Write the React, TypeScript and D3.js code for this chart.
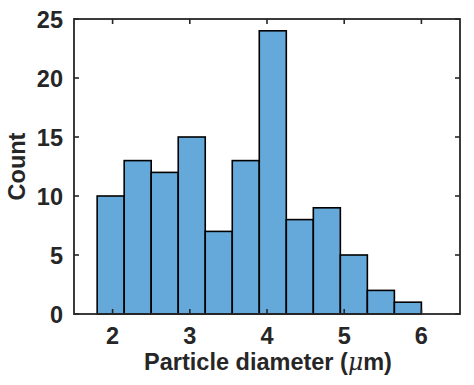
import React from 'react';
import * as d3 from 'd3';

// Histogram bins (µm) and counts
const BIN_EDGES = [1.8, 2.15, 2.5, 2.85, 3.2, 3.55, 3.9, 4.25, 4.6, 4.95, 5.3, 5.65, 6.0];
const COUNTS = [10, 13, 12, 15, 7, 13, 24, 8, 9, 5, 2, 1];
const X_TICKS = [2, 3, 4, 5, 6];
const Y_TICKS = [0, 5, 10, 15, 20, 25];

const W = 474;
const H = 385;
const FONT = 'Helvetica, Arial, "Liberation Sans", sans-serif';
const FS = 23.5;
const INK = '#262626';
const BAR_FILL = '#64a9da';

export default function App() {
  const x = d3.scaleLinear().domain([1.5, 6.5]).range([74, 460]);
  const y = d3.scaleLinear().domain([0, 25]).range([314, 19]);
  const [x0, x1] = x.range();
  const [y0, y1] = y.range();
  const tick = 5;

  const bins = COUNTS.map((c, i) => ({ lo: BIN_EDGES[i], hi: BIN_EDGES[i + 1], c }));

  return (
    <svg
      width={W}
      height={H}
      style={{ position: 'absolute', left: 0, top: 0, background: '#fff' }}
      fontFamily={FONT}
    >
      {/* bars */}
      {bins.map((b, i) => (
        <rect
          key={i}
          x={x(b.lo)}
          y={y(b.c)}
          width={x(b.hi) - x(b.lo)}
          height={y(0) - y(b.c)}
          fill={BAR_FILL}
          stroke="#000"
          strokeWidth={1.6}
        />
      ))}

      {/* ticks (inward, on all four sides) */}
      {X_TICKS.map(t => (
        <g key={'xt' + t} stroke={INK} strokeWidth={1.6}>
          <line x1={x(t)} x2={x(t)} y1={y0} y2={y0 - tick} />
          <line x1={x(t)} x2={x(t)} y1={y1} y2={y1 + tick} />
        </g>
      ))}
      {Y_TICKS.map(t => (
        <g key={'yt' + t} stroke={INK} strokeWidth={1.6}>
          <line x1={x0} x2={x0 + tick} y1={y(t)} y2={y(t)} />
          <line x1={x1} x2={x1 - tick} y1={y(t)} y2={y(t)} />
        </g>
      ))}

      {/* axes box */}
      <rect
        x={x0}
        y={y1}
        width={x1 - x0}
        height={y0 - y1}
        fill="none"
        stroke={INK}
        strokeWidth={1.8}
      />

      {/* tick labels */}
      {X_TICKS.map(t => (
        <text
          key={'xl' + t}
          x={x(t)}
          y={344}
          textAnchor="middle"
          fontSize={FS}
          fontWeight="bold"
          fill={INK}
        >
          {t}
        </text>
      ))}
      {Y_TICKS.map(t => (
        <text
          key={'yl' + t}
          x={63}
          y={y(t) + 8.5}
          textAnchor="end"
          fontSize={FS}
          fontWeight="bold"
          fill={INK}
        >
          {t}
        </text>
      ))}

      {/* axis labels */}
      <text
        x={268}
        y={370}
        textAnchor="middle"
        fontSize={FS}
        fontWeight="bold"
        fill={INK}
      >
        Particle diameter (
        <tspan fontStyle="italic" fontWeight="normal" fontFamily="'DejaVu Serif', 'Times New Roman', serif">μ</tspan>
        m)
      </text>
      <text
        transform={`translate(25,${(y0 + y1) / 2}) rotate(-90)`}
        textAnchor="middle"
        fontSize={FS}
        fontWeight="bold"
        fill={INK}
      >
        Count
      </text>
    </svg>
  );
}
